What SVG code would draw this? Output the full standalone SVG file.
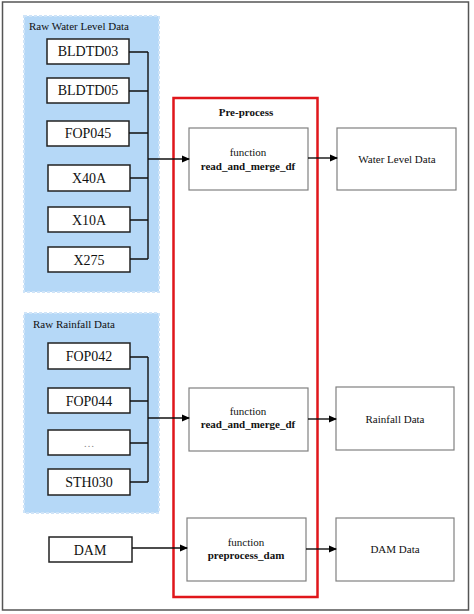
<svg xmlns="http://www.w3.org/2000/svg" width="474" height="614" viewBox="0 0 474 614" font-family="'Liberation Serif', 'Times New Roman', serif">
<defs>
<marker id="arr" markerWidth="8" markerHeight="8" refX="7" refY="4" orient="auto" markerUnits="userSpaceOnUse">
<path d="M0,0.5 L8,4 L0,7.5 Z" fill="#000"/>
</marker>
<style>
text{font-family:'Liberation Serif','Times New Roman',serif;fill:#111}
.grp{fill:#b5d8f7;stroke:#cfe4f8;stroke-width:2;stroke-dasharray:3 2}
.src{fill:#fff;stroke:#222;stroke-width:1.5}
.fn{fill:#fff;stroke:#808080;stroke-width:1.2}
.out{fill:#fff;stroke:#808080;stroke-width:1.2}
.st{font-size:14px;text-anchor:middle}
.sm{font-size:11px}
.b{font-weight:bold}
.c{text-anchor:middle}
.ln{fill:none;stroke:#111;stroke-width:1.4}
</style>
</defs>
<rect x="2.5" y="2" width="466" height="608" fill="#fff" stroke="#555" stroke-width="1.5"/>

<g id="raw-water">
<rect class="grp" x="24" y="16" width="135" height="276"/>
<text class="sm" x="29" y="30">Raw Water Level Data</text>
</g>
<g id="BLDTD03"><rect class="src" x="47" y="39" width="82" height="25"/><text class="st" x="88" y="56">BLDTD03</text></g>
<g id="BLDTD05"><rect class="src" x="47" y="78" width="82" height="25"/><text class="st" x="88" y="95">BLDTD05</text></g>
<g id="FOP045"><rect class="src" x="47" y="121" width="82" height="25"/><text class="st" x="88" y="138">FOP045</text></g>
<g id="X40A"><rect class="src" x="48" y="165" width="82" height="26"/><text class="st" x="89" y="183">X40A</text></g>
<g id="X10A"><rect class="src" x="48" y="207" width="82" height="25"/><text class="st" x="89" y="225">X10A</text></g>
<g id="X275"><rect class="src" x="48" y="247" width="82" height="25"/><text class="st" x="89" y="265">X275</text></g>

<g id="raw-rainfall">
<rect class="grp" x="24" y="313" width="135" height="200"/>
<text class="sm" x="33" y="328">Raw Rainfall  Data</text>
</g>
<g id="FOP042"><rect class="src" x="48" y="343" width="82" height="26"/><text class="st" x="89" y="361">FOP042</text></g>
<g id="FOP044"><rect class="src" x="48" y="388" width="82" height="25"/><text class="st" x="89" y="406">FOP044</text></g>
<g id="ellipsis"><rect class="src" x="48" y="430" width="82" height="25"/><text class="st" x="89" y="447" style="fill:#888;font-size:11px">…</text></g>
<g id="STH030"><rect class="src" x="48" y="469" width="82" height="26"/><text class="st" x="89" y="487">STH030</text></g>

<g id="DAM"><rect class="src" x="49" y="537" width="83" height="25"/><text class="st" x="90" y="555">DAM</text></g>

<g id="preprocess">
<rect x="173.5" y="98" width="144" height="499" fill="none" stroke="#e0161b" stroke-width="2.5"/>
<text class="sm b c" x="246" y="116">Pre-process</text>
</g>
<g id="fn1"><rect class="fn" x="189" y="128" width="119" height="62"/><text class="sm c" x="248" y="156">function</text><text class="sm b c" x="248" y="170">read_and_merge_df</text></g>
<g id="fn2"><rect class="fn" x="189" y="388" width="119" height="63"/><text class="sm c" x="248" y="415">function</text><text class="sm b c" x="248" y="428">read_and_merge_df</text></g>
<g id="fn3"><rect class="fn" x="187" y="518" width="119" height="63"/><text class="sm c" x="246" y="546">function</text><text class="sm b c" x="246" y="559">preprocess_dam</text></g>

<g id="water-level-data"><rect class="out" x="337" y="128" width="119" height="62"/><text class="sm c" x="397" y="163">Water Level Data</text></g>
<g id="rainfall-data"><rect class="out" x="336" y="387" width="118" height="63"/><text class="sm c" x="395" y="423">Rainfall  Data</text></g>
<g id="dam-data"><rect class="out" x="336" y="518" width="118" height="63"/><text class="sm c" x="395" y="553">DAM Data</text></g>

<g id="connectors">
<path class="ln" d="M129,52H148M129,91H148M129,133H148M130,178H148M130,220H148M130,259H148M148,52V259"/>
<path class="ln" d="M148,159H189" marker-end="url(#arr)"/>
<path class="ln" d="M130,357H148M130,401H148M130,443H148M130,482H148M148,357V482"/>
<path class="ln" d="M148,418H189" marker-end="url(#arr)"/>
<path class="ln" d="M132,548H187" marker-end="url(#arr)"/>
<path class="ln" d="M308,158H337" marker-end="url(#arr)"/>
<path class="ln" d="M308,419H336" marker-end="url(#arr)"/>
<path class="ln" d="M306,549H336" marker-end="url(#arr)"/>
</g>
</svg>
